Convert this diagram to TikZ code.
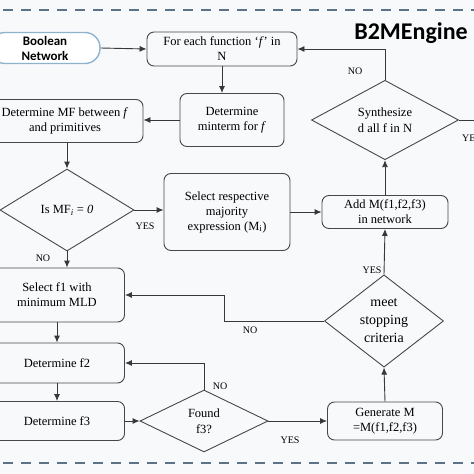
\documentclass[tikz,border=0pt]{standalone}
\usepackage{fontspec}
\setmainfont{Liberation Serif}
\newfontfamily\calibri{Carlito}
\usetikzlibrary{arrows.meta,shapes.geometric}

\definecolor{bgtint}{rgb}{0.972,0.976,0.984}
\definecolor{dashblue}{rgb}{0.36,0.45,0.53}
\definecolor{pillblue}{rgb}{0.56,0.70,0.80}

\begin{document}
\begin{tikzpicture}[x=1pt,y=-1pt,
  box/.style={draw=black!72, line width=0.9pt, rounded corners=7pt, align=center,
    inner sep=1pt, font=\fontsize{12.5}{15}\selectfont},
  dec/.style={draw=black!72, line width=0.9pt, diamond, align=center, inner sep=0pt,
    font=\fontsize{12.5}{16.5}\selectfont},
  arr/.style={draw=black!78, line width=0.9pt, -{Latex[length=7pt,width=6pt]}},
  lbl/.style={font=\fontsize{10}{12}\selectfont, inner sep=0pt}]

  % Frame
  \useasboundingbox[fill=bgtint] (0,0) rectangle (474,474);
  \draw[dashblue, line width=2.6pt, dash pattern=on 10pt off 8pt] (3,10) -- (474,10);
  \draw[dashblue, line width=2.6pt, dash pattern=on 10pt off 8pt] (3,463) -- (474,463);
  \node[font=\calibri\bfseries\fontsize{24}{26}\selectfont, inner sep=0pt] (title) at (411,33) {B2MEngine};

  % Start
  \node[draw=pillblue, fill=white, line width=1.4pt, rounded corners=15pt, minimum width=110pt,
    minimum height=31pt, align=center, font=\calibri\bfseries\fontsize{13}{15}\selectfont]
    (bool) at (45,48) {Boolean\\Network};

  % Boxes
  \node[box, minimum width=150pt, minimum height=34pt] (foreach) at (222,49)
    {For each function `\textit{f}' in\\N};
  \node[box, minimum width=104pt, minimum height=53pt] (minterm) at (232,120)
    {Determine\\minterm for \textit{f}};
  \node[box, minimum width=156pt, minimum height=43pt] (mf) at (65,121)
    {Determine MF between \textit{f}\\and primitives};
  \node[box, minimum width=126pt, minimum height=77pt] (select) at (227,212)
    {Select respective\\majority\\expression (M\textsubscript{i})};
  \node[box, minimum width=126pt, minimum height=33pt] (add) at (385,212)
    {Add M(f1,f2,f3)\\in network};
  \node[box, minimum width=135pt, minimum height=54pt] (selectf) at (57,295)
    {Select f1 with\\minimum MLD};
  \node[box, minimum width=135pt, minimum height=40pt] (ftwo) at (57,363) {Determine f2};
  \node[box, minimum width=135pt, minimum height=39pt] (fthree) at (57,421) {Determine f3};
  \node[box, minimum width=115pt, minimum height=38pt] (gen) at (385,421)
    {Generate M\\=M(f1,f2,f3)};

  % Decisions
  \node[dec, minimum width=134pt, minimum height=82pt] (ismf) at (67,210)
    {Is MF\textsubscript{\textit{i}} = \textit{0}};
  \node[dec, minimum width=147pt, minimum height=79pt] (synth) at (385,120)
    {Synthesize\\d all f in N};
  \node[dec, minimum width=119pt, minimum height=70pt, font=\fontsize{14}{18}\selectfont]
    (meet) at (384,321) {meet\\stopping\\criteria};
  \node[dec, minimum width=128pt, minimum height=62pt] (found) at (204,421)
    {Found\\f3?};

  \coordinate (exit) at (490,120);
  \coordinate (back) at (224,295);

  % Flow
  \draw[arr] (bool.east) -- (foreach.west);
  \draw[arr] (foreach.south) -- (foreach.south |- minterm.north);
  \draw[arr] (minterm.west) -- (mf.east |- minterm.west);
  \draw[arr] (mf.south -| ismf.north) -- (ismf.north);
  \draw[arr] (ismf.east) -- (select.west |- ismf.east);
  \draw[arr] (select.east) -- (add.west);
  \draw[arr] (add.north) -- (synth.south);
  \draw[arr] (synth.north) |- (foreach.east);
  \draw[draw=black!78, line width=0.9pt] (synth.east) -- (exit);
  \draw[arr] (meet.north) -- (add.south);
  \draw[arr] (meet.west) -| (back) -- (selectf.east |- back);
  \draw[arr] (ismf.south) -- (selectf.north -| ismf.south);
  \draw[arr] (selectf.south) -- (ftwo.north);
  \draw[arr] (ftwo.south) -- (fthree.north);
  \draw[arr] (fthree.east) -- (found.west);
  \draw[arr] (found.north) |- (ftwo.east);
  \draw[arr] (found.east) -- (gen.west);
  \draw[arr] (gen.north) -- (meet.south);

  % Labels
  \node[lbl] (noa) at (355,71) {NO};
  \node[lbl, anchor=west] (yesa) at (462,138) {YES};
  \node[lbl] (yesb) at (145,226) {YES};
  \node[lbl] (nob) at (43,258) {NO};
  \node[lbl] (yesc) at (372,270) {YES};
  \node[lbl] (noc) at (250,330) {NO};
  \node[lbl] (nod) at (220,386) {NO};
  \node[lbl] (yesd) at (290,440) {YES};
\end{tikzpicture}
\end{document}
